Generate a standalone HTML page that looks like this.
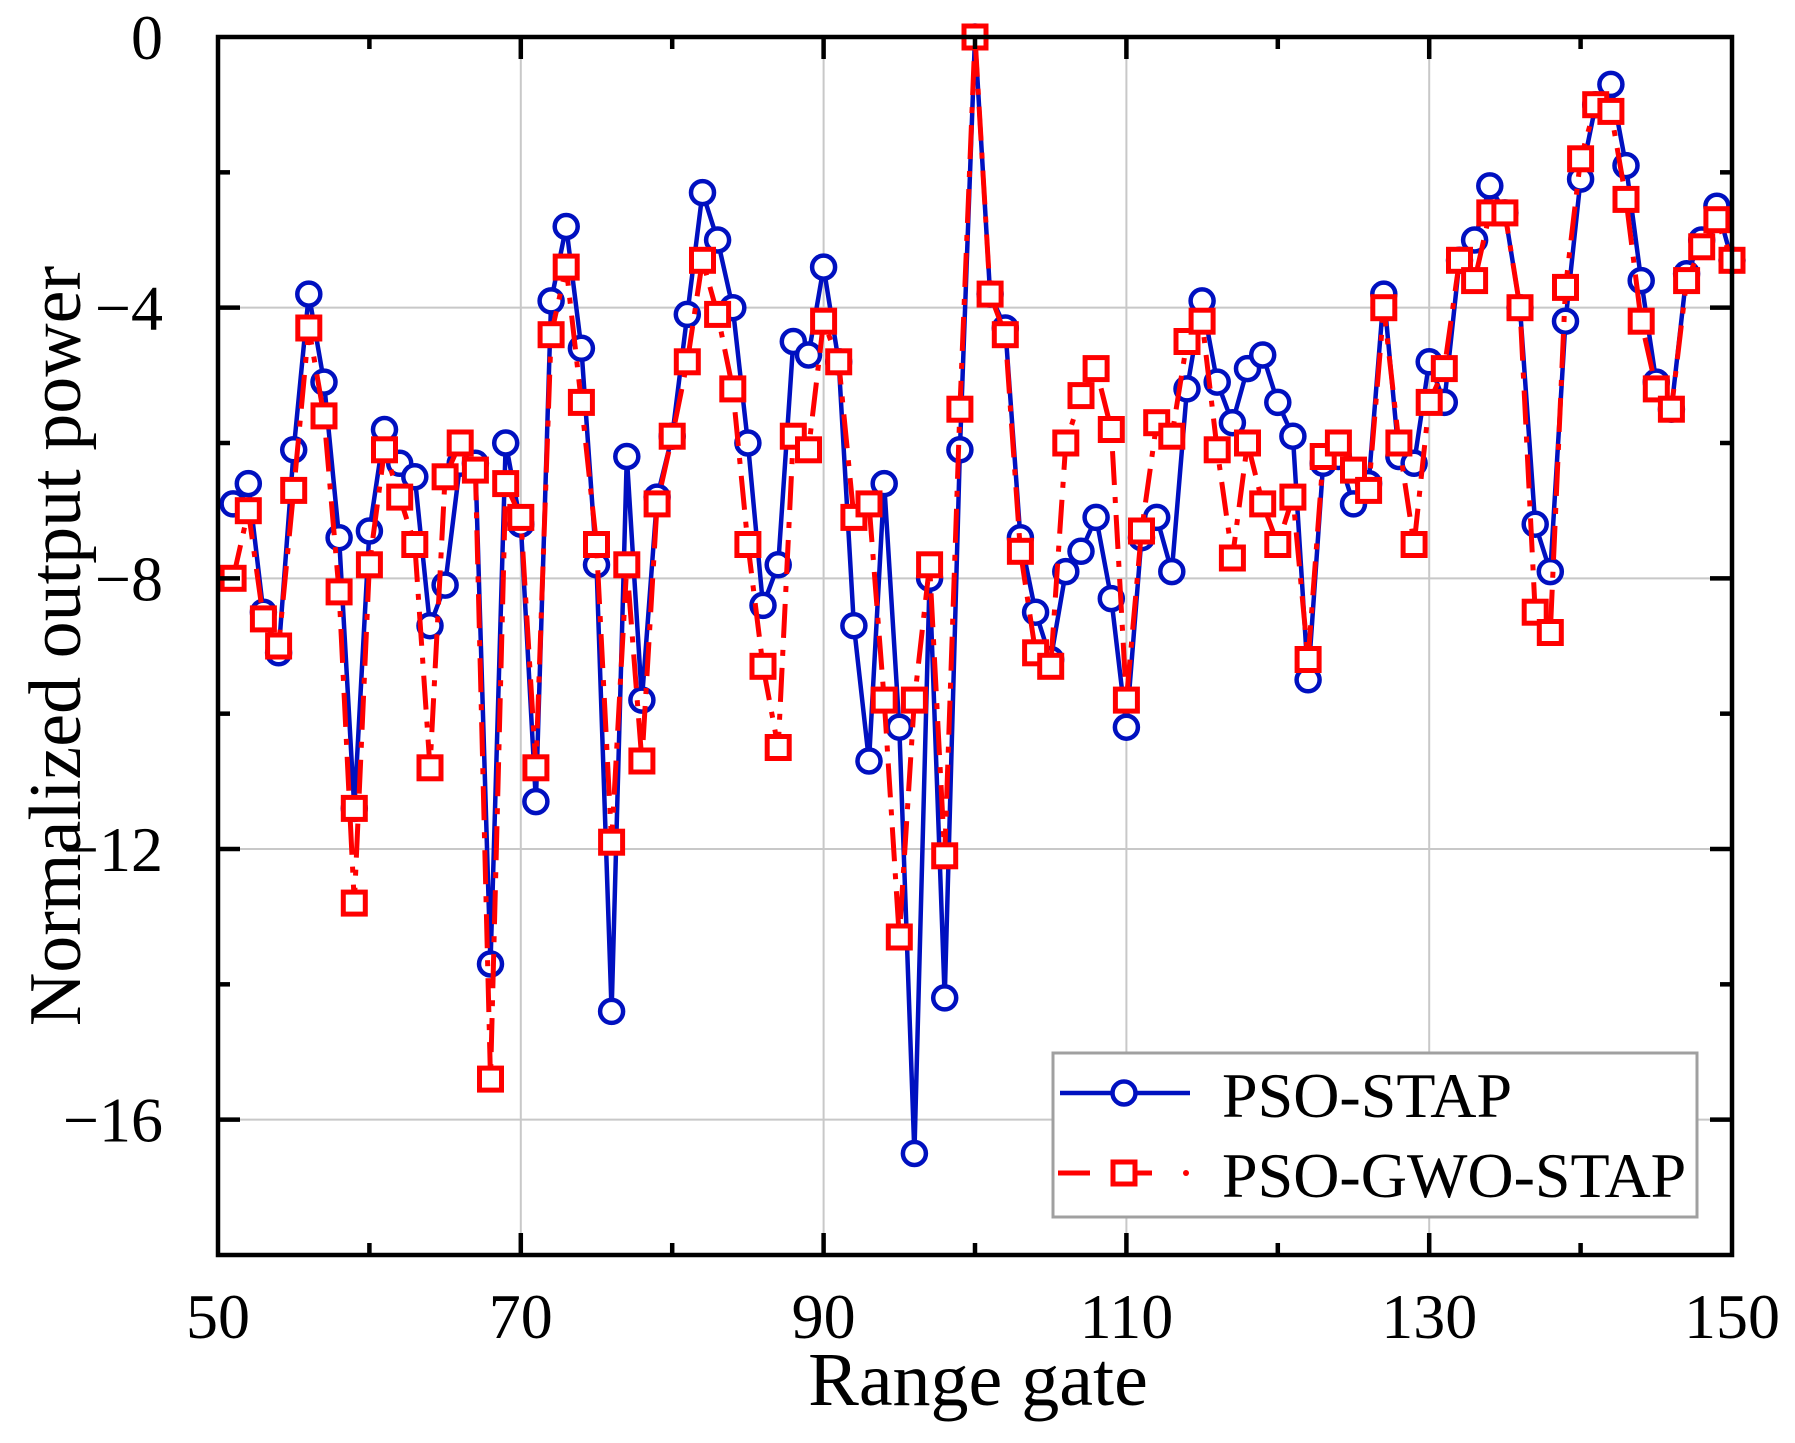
<!DOCTYPE html>
<html><head><meta charset="utf-8"><style>
html,body{margin:0;padding:0;background:#fff;}
svg{display:block;}
text{font-family:"Liberation Serif",serif;fill:#000;}
</style></head><body>
<svg id="s" width="1795" height="1443" xmlns="http://www.w3.org/2000/svg"></svg>
<script>
var L=218,R=1732,T=37,B=1255;
function X(g){return L+(g-50)*(R-L)/100;}
function Y(v){return T+(-v)*(B-T)/18;}
var blue=[-6.9,-6.6,-8.5,-9.1,-6.1,-3.8,-5.1,-7.4,-11.4,-7.3,-5.8,-6.3,-6.5,-8.7,-8.1,-6.3,-6.3,-13.7,-6.0,-7.2,-11.3,-3.9,-2.8,-4.6,-7.8,-14.4,-6.2,-9.8,-6.8,-5.9,-4.1,-2.3,-3.0,-4.0,-6.0,-8.4,-7.8,-4.5,-4.7,-3.4,-4.8,-8.7,-10.7,-6.6,-10.2,-16.5,-8.0,-14.2,-6.1,0,-3.8,-4.3,-7.4,-8.5,-9.2,-7.9,-7.6,-7.1,-8.3,-10.2,-7.4,-7.1,-7.9,-5.2,-3.9,-5.1,-5.7,-4.9,-4.7,-5.4,-5.9,-9.5,-6.3,-6.2,-6.9,-6.6,-3.8,-6.2,-6.3,-4.8,-5.4,-3.3,-3.0,-2.2,-2.6,-4.0,-7.2,-7.9,-4.2,-2.1,-1.0,-0.7,-1.9,-3.6,-5.1,-5.5,-3.5,-3.0,-2.5,-3.3];
var red=[-8.0,-7.0,-8.6,-9.0,-6.7,-4.3,-5.6,-8.2,-12.8,-7.8,-6.1,-6.8,-7.5,-10.8,-6.5,-6.0,-6.4,-15.4,-6.6,-7.1,-10.8,-4.4,-3.4,-5.4,-7.5,-11.9,-7.8,-10.7,-6.9,-5.9,-4.8,-3.3,-4.1,-5.2,-7.5,-9.3,-10.5,-5.9,-6.1,-4.2,-4.8,-7.1,-6.9,-9.8,-13.3,-9.8,-7.8,-12.1,-5.5,0,-3.8,-4.4,-7.6,-9.1,-9.3,-6.0,-5.3,-4.9,-5.8,-9.8,-7.3,-5.7,-5.9,-4.5,-4.2,-6.1,-7.7,-6.0,-6.9,-7.5,-6.8,-9.2,-6.2,-6.0,-6.4,-6.7,-4.0,-6.0,-7.5,-5.4,-4.9,-3.3,-3.6,-2.6,-2.6,-4.0,-8.5,-8.8,-3.7,-1.8,-1.0,-1.1,-2.4,-4.2,-5.2,-5.5,-3.6,-3.1,-2.7,-3.3];
var h='';
[70,90,110,130].forEach(function(g){h+='<line x1="'+X(g)+'" y1="'+T+'" x2="'+X(g)+'" y2="'+B+'" stroke="#c8c8c8" stroke-width="2"/>';});
[-4,-8,-12,-16].forEach(function(v){h+='<line x1="'+L+'" y1="'+Y(v)+'" x2="'+R+'" y2="'+Y(v)+'" stroke="#c8c8c8" stroke-width="2"/>';});
var pb='',pr='';
for(var i=0;i<100;i++){var g=51+i;pb+=(i?'L':'M')+X(g).toFixed(1)+' '+Y(blue[i]).toFixed(1);pr+=(i?'L':'M')+X(g).toFixed(1)+' '+Y(red[i]).toFixed(1);}
h+='<path d="'+pb+'" fill="none" stroke="#0010c0" stroke-width="4.5"/>';
for(var i=0;i<100;i++){h+='<circle cx="'+X(51+i).toFixed(1)+'" cy="'+Y(blue[i]).toFixed(1)+'" r="11.5" fill="#fff" stroke="#0010c0" stroke-width="4.5"/>';}
h+='<path d="'+pr+'" fill="none" stroke="#ff0000" stroke-width="5" stroke-dasharray="34,12,6,12"/>';
function sq(x,y){return '<rect x="'+(x-11).toFixed(1)+'" y="'+(y-11).toFixed(1)+'" width="22" height="22" fill="#fff" stroke="#ff0000" stroke-width="5"/>';}
for(var i=0;i<100;i++){h+=sq(X(51+i),Y(red[i]));}
h+=sq(X(59),Y(-11.4));
h+='<rect x="'+L+'" y="'+T+'" width="'+(R-L)+'" height="'+(B-T)+'" fill="none" stroke="#000" stroke-width="4.5"/>';
for(var g=60;g<150;g+=10){var len=(g%20==10)?22:12;h+='<line x1="'+X(g)+'" y1="'+B+'" x2="'+X(g)+'" y2="'+(B-len)+'" stroke="#000" stroke-width="4.5"/><line x1="'+X(g)+'" y1="'+T+'" x2="'+X(g)+'" y2="'+(T+len)+'" stroke="#000" stroke-width="4.5"/>';}
for(var v=-2;v>-18;v-=2){var len=(v%4==0)?22:12;h+='<line x1="'+L+'" y1="'+Y(v)+'" x2="'+(L+len)+'" y2="'+Y(v)+'" stroke="#000" stroke-width="4.5"/><line x1="'+R+'" y1="'+Y(v)+'" x2="'+(R-len)+'" y2="'+Y(v)+'" stroke="#000" stroke-width="4.5"/>';}
[50,70,90,110,130,150].forEach(function(g){h+='<text x="'+X(g)+'" y="1338" font-size="64" text-anchor="middle">'+g+'</text>';});
[0,-4,-8,-12,-16].forEach(function(v){h+='<text x="163" y="'+(Y(v)+22)+'" font-size="64" text-anchor="end">'+(v==0?'0':'\u2212'+(-v))+'</text>';});
h+='<text x="978" y="1405" font-size="76" text-anchor="middle">Range gate</text>';
h+='<text transform="translate(80,646) rotate(-90)" font-size="74" text-anchor="middle">Normalized output power</text>';
h+='<rect x="1053" y="1053" width="644" height="164" fill="#fff" stroke="#a0a0a0" stroke-width="3"/>';
h+='<line x1="1060" y1="1093" x2="1190" y2="1093" stroke="#0010c0" stroke-width="4.5"/><circle cx="1124" cy="1093" r="11.5" fill="#fff" stroke="#0010c0" stroke-width="4.5"/>';
h+='<line x1="1058" y1="1173" x2="1090" y2="1173" stroke="#ff0000" stroke-width="5"/><line x1="1130" y1="1173" x2="1152" y2="1173" stroke="#ff0000" stroke-width="5"/><circle cx="1186" cy="1173" r="3" fill="#ff0000"/>'+sq(1124,1173);
h+='<text x="1222" y="1117" font-size="64">PSO-STAP</text><text x="1222" y="1197" font-size="64">PSO-GWO-STAP</text>';
document.getElementById('s').innerHTML=h;
</script>
</body></html>
